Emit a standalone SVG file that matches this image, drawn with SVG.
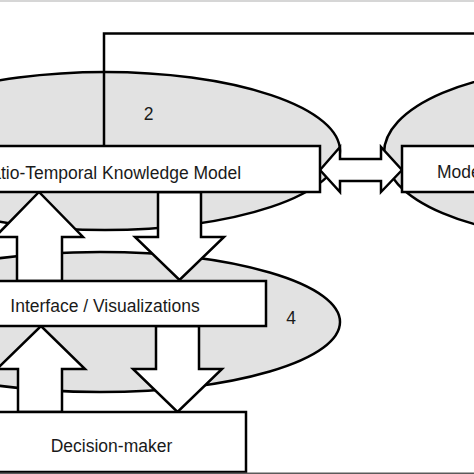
<svg xmlns="http://www.w3.org/2000/svg" width="474" height="474" viewBox="0 0 474 474">
<style>
.ell{fill:#e2e2e2;stroke:#000;stroke-width:2.5}
.box{fill:#fff;stroke:#000;stroke-width:2.5}
.arr{fill:#fff;stroke:#000;stroke-width:2.5;stroke-linejoin:miter}
.lbl{font-family:"Liberation Sans",Arial,sans-serif;font-size:17.5px;fill:#1a1a1a}
.con{fill:none;stroke:#000;stroke-width:2.5}
</style>
<rect x="0" y="0" width="474" height="474" fill="#fff"/>
<rect x="0" y="0" width="474" height="2" fill="#d6d6d6"/>
<g id="ellipses">
<ellipse id="ellipse-2" class="ell" cx="105" cy="151" rx="235" ry="79"/>
<ellipse id="ellipse-3" class="ell" cx="584" cy="153" rx="200" ry="85"/>
<ellipse id="ellipse-4" class="ell" cx="100" cy="322" rx="240" ry="70"/>
</g>
<g id="connectors">
<polyline class="con" points="104,146 104,33.5 480,33.5"/>
<polygon class="arr" points="320,170 340,147 340,159 381,159 381,147 402,170 381,192 381,181 340,181 340,192"/>
<polygon class="arr" points="17,281 17,237 -5,237 39,192 83,237 62,237 62,281"/>
<polygon class="arr" points="158,192 158,237 135,237 179.5,280 224,237 201,237 201,192"/>
<polygon class="arr" points="18,412 18,369 -3,369 41,326 85,369 62,369 62,412"/>
<polygon class="arr" points="156,326 156,369 133,369 177.5,412 222,369 199,369 199,326"/>
</g>
<g id="node-knowledge">
<rect class="box" x="-110" y="146" width="430" height="46"/>
<text class="lbl" x="105.5" y="179" text-anchor="middle">Spatio-Temporal Knowledge Model</text>
</g>
<g id="node-models">
<rect class="box" x="402" y="146" width="100" height="46"/>
<text class="lbl" x="437" y="178">Model</text>
</g>
<g id="node-interface">
<rect class="box" x="-56" y="281" width="322" height="45"/>
<text class="lbl" x="105" y="312" text-anchor="middle">Interface / Visualizations</text>
</g>
<g id="node-decision">
<rect class="box" x="-23" y="412" width="269" height="60"/>
<text class="lbl" x="111.5" y="452" text-anchor="middle">Decision-maker</text>
</g>
<g id="labels">
<text class="lbl" x="148.5" y="120" text-anchor="middle">2</text>
<text class="lbl" x="291" y="324" text-anchor="middle">4</text>
</g>
<rect x="0" y="472.5" width="474" height="1.5" fill="#5a5a5a"/>
</svg>
